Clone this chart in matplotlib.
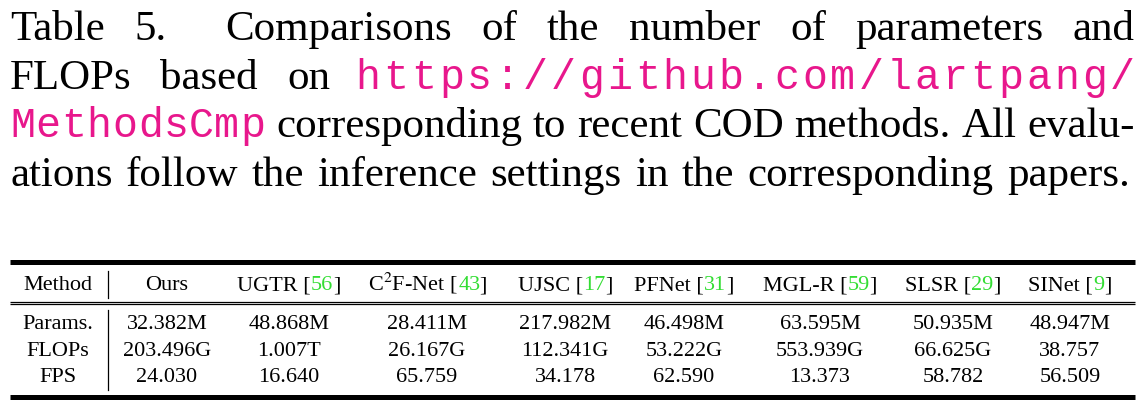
import matplotlib
matplotlib.use("Agg")
import matplotlib.pyplot as plt

plt.rcParams['mathtext.fontset'] = 'stix'
SERIF = 'Liberation Serif'
MONO = 'Liberation Mono'
PINK = '#e8178c'
GREEN = '#33dd33'

methods = ["Ours", "UGTR", "C$^2$F-Net", "UJSC", "PFNet", "MGL-R", "SLSR", "SINet"]
cites = [None, "56", "43", "17", "31", "59", "29", "9"]
row_labels = ["Params.", "FLOPs", "FPS"]
params = ["32.382M", "48.868M", "28.411M", "217.982M", "46.498M", "63.595M", "50.935M", "48.947M"]
flops = ["203.496G", "1.007T", "26.167G", "112.341G", "53.222G", "553.939G", "66.625G", "38.757"]
fps = ["24.030", "16.640", "65.759", "34.178", "62.590", "13.373", "58.782", "56.509"]

W, H = 1147, 407
fig = plt.figure(figsize=(W/100, H/100), dpi=100)
ax = fig.add_axes([0, 0, 1, 1])
ax.set_xlim(0, W); ax.set_ylim(H, 0); ax.axis('off')
fig.canvas.draw()
R = fig.canvas.get_renderer()

def width(s, **kw):
    t = ax.text(0, 0, s, **kw)
    w = t.get_window_extent(R).width
    t.remove()
    return w

def justify(items, y, x0, x1):
    ws = [width(s, **kw) for s, kw in items]
    gap = (x1 - x0 - sum(ws)) / (len(items) - 1)
    x = x0
    for (s, kw), w in zip(items, ws):
        ax.text(x, y, s, va='baseline', ha='left', **kw)
        x += w + gap

def cited(name, c, y, xc, tf, gf):
    full = name + " [" + c + "]"
    total = width(full, **tf)
    x0 = xc - total / 2
    ax.text(x0, y, name + " [", va='baseline', ha='left', **tf)
    xa = x0 + width(name + " [" + "x", **tf) - width("x", **tf)
    ax.text(xa, y, c, va='baseline', ha='left', **gf)
    xb = x0 + total - width("]", **tf)
    ax.text(xb, y, "]", va='baseline', ha='left', **tf)

cap = dict(family=SERIF, fontsize=31, color='black')
mono = dict(family=MONO, fontsize=30, color=PINK)

l1 = ["Table", "5.", "", "Comparisons", "of", "the", "number", "of", "parameters", "and"]
justify([(w, cap) for w in l1], 40, 10, 1135)
justify([(w, cap) for w in ["FLOPs", "based", "on"]], 89, 10, 330)
url = "https://github.com/lartpang/"
cw = width("h", **mono)
step = (1135 - 355 - cw) / (len(url) - 1)
for i, ch in enumerate(url):
    ax.text(355 + i * step, 89, ch, va='baseline', ha='left', **mono)
mstep = (265 - 10 - cw) / 9
for i, ch in enumerate("MethodsCmp"):
    ax.text(10 + i * mstep, 137, ch, va='baseline', ha='left', **mono)
l3 = ["corresponding", "to", "recent", "COD", "methods.", "All", "evalu-"]
justify([(w, cap) for w in l3], 137, 276, 1135)
l4 = "ations follow the inference settings in the corresponding papers.".split()
justify([(w, cap) for w in l4], 186, 10, 1130)

tf = dict(family=SERIF, fontsize=16, color='black')
gf = dict(family=SERIF, fontsize=16, color=GREEN)
xs = [167, 289, 427, 565, 684, 820, 953, 1070]
ax.plot([10, 1135], [261.5, 261.5], color='black', lw=3.6, solid_capstyle='butt')
ax.plot([10, 1135], [301.5, 301.5], color='black', lw=0.9, solid_capstyle='butt')
ax.plot([10, 1135], [304, 304], color='black', lw=0.9, solid_capstyle='butt')
ax.plot([10, 1135], [396.5, 396.5], color='black', lw=3.6, solid_capstyle='butt')
ax.plot([108, 108], [271, 298], color='black', lw=0.9)
ax.plot([108, 108], [310, 390], color='black', lw=0.9)

ax.text(58, 290, "Method", ha='center', va='baseline', **tf)
for m, c, x in zip(methods, cites, xs):
    if c is None:
        ax.text(x, 290, m, ha='center', va='baseline', **tf)
    else:
        cited(m, c, 290, x, tf, gf)

ys = [329, 356, 382]
for lab, vals, y in zip(row_labels, [params, flops, fps], ys):
    ax.text(58, y, lab, ha='center', va='baseline', **tf)
    for v, x in zip(vals, xs):
        ax.text(x, y, v, ha='center', va='baseline', **tf)

fig.savefig("out.png", dpi=100)
